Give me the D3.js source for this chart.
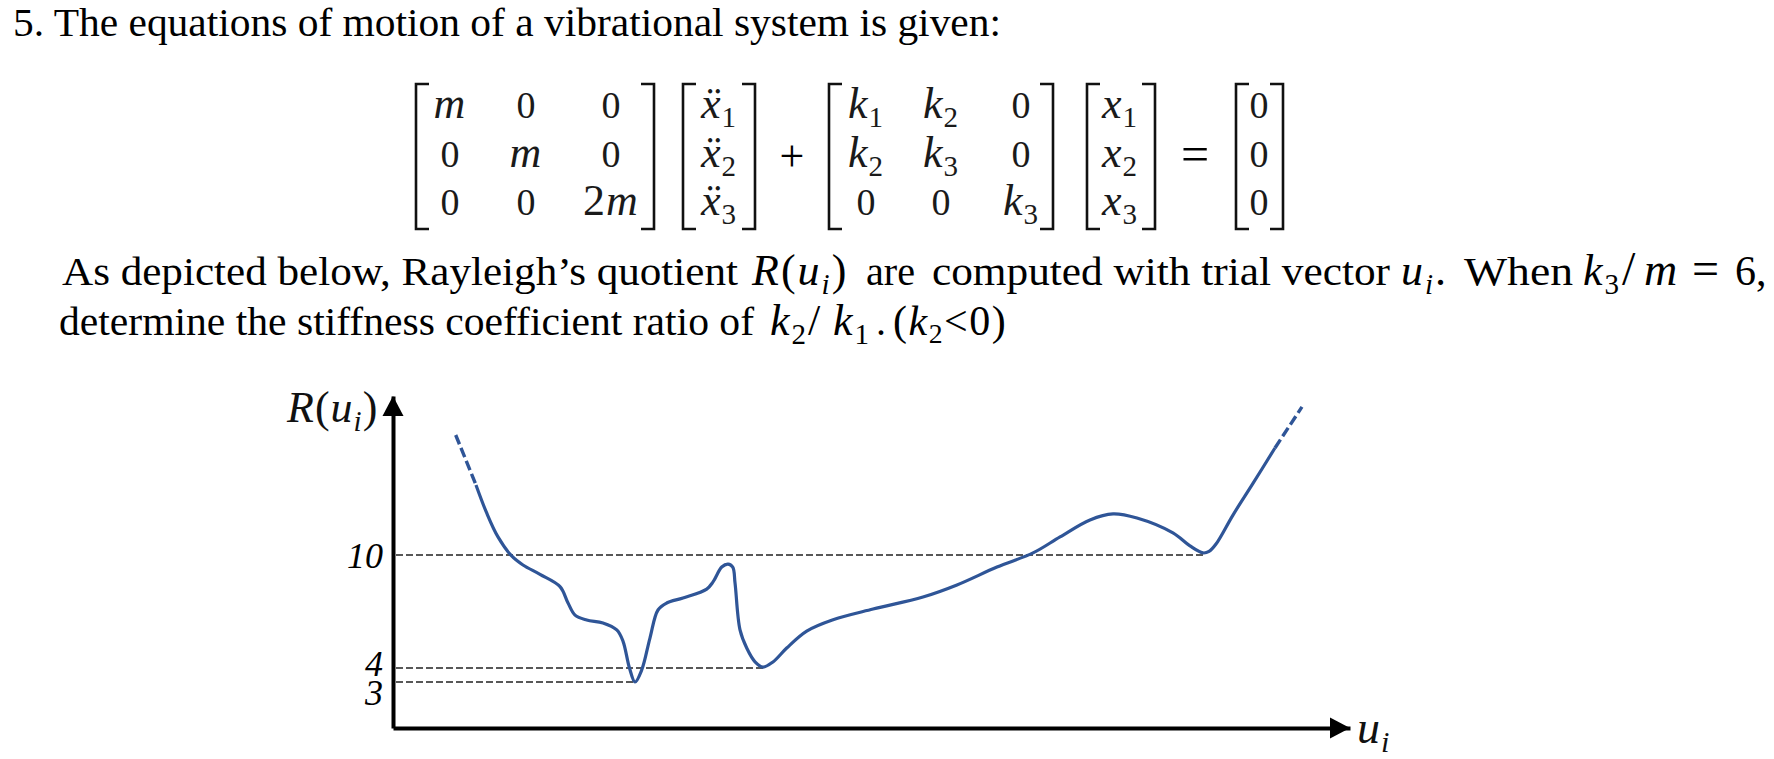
<!DOCTYPE html>
<html><head><meta charset="utf-8">
<script src="https://cdnjs.cloudflare.com/ajax/libs/d3/7.8.5/d3.min.js"></script>
<style>html,body{margin:0;padding:0;background:#fff}svg{display:block}text{fill:#000;font-family:"Liberation Serif",serif}</style>
</head><body><svg id="c" width="1774" height="759"></svg>
<script>
// ---- curve data: trial vector position u (0-100), Rayleigh quotient R
const dashLeftU=[6.55,8.67], dashLeftR=[16.37,13.72];
const curveU=[8.67,9.79,10.97,12.40,13.58,15.36,17.45,18.29,19.02,20.24,21.94,23.38,24.03,24.71,25.29,25.99,26.85,27.69,28.60,30.30,32.78,33.44,34.35,35.01,35.50,35.74,36.26,36.96,37.83,38.66,39.70,41.14,43.23,45.91,50.16,55.38,58.93,63.11,66.88,69.70,72.83,75.24,77.74,81.50,83.28,84.64,85.27,86.00,87.77,89.86,92.16];
const curveR=[13.72,12.23,10.96,9.95,9.47,8.97,8.32,7.45,6.81,6.55,6.39,6.02,5.43,4.0,3.0,3.86,5.59,7.08,7.45,7.72,8.19,8.57,9.36,9.52,9.36,8.51,6.02,5.06,4.33,4.05,4.32,5.06,5.96,6.55,7.13,7.77,8.41,9.36,10.11,10.96,11.86,12.18,11.96,11.17,10.48,10.11,10.19,10.58,12.12,13.80,15.68];
const dashRightU=[92.16,94.98], dashRightR=[15.68,17.86];
const tickValues=[10,4,3];
const refEndU=[84.64,38.66,25.29];
const yLabel=[["R","i"],["(",""],["u","i"],["i","si"],[")",""]];
const xLabel=[["u","i"],["i","si"]];
// ---- equation data
const massMatrix=[["m","0","0"],["0","m","0"],["0","0","2m"]];
const accelVector=[["ẍ_1"],["ẍ_2"],["ẍ_3"]];
const stiffMatrix=[["k_1","k_2","0"],["k_2","k_3","0"],["0","0","k_3"]];
const dispVector=[["x_1"],["x_2"],["x_3"]];
const rhsVector=[["0"],["0"],["0"]];

const svg=d3.select("#c");
const BLUE="#2f5597";
const x=d3.scaleLinear().domain([0,100]).range([393,1350]);
const y=d3.scaleLinear().domain([0,3,4,10,18.44]).range([728,682,668,555,396]);

function rich(g,px,py,parts,size,anchor,spacing){
  const t=g.append("text").attr("x",px).attr("y",py).attr("font-size",size).attr("text-anchor",anchor||"start");
  if(spacing) t.attr("letter-spacing",spacing);
  let prev=false;
  const drop=size*0.2;
  parts.forEach(([s,k])=>{
    const sub=k==="s"||k==="si";
    const ts=t.append("tspan").text(s);
    if(k==="i"||k==="si") ts.attr("font-style","italic");
    if(sub) ts.attr("font-size",size*0.66);
    const dy=(sub&&!prev)?drop:(!sub&&prev)?-drop:0;
    if(dy) ts.attr("dy",dy);
    prev=sub;
  });
  return t;
}
function parseCell(c){
  const [base,sub]=c.split("_");
  const parts=[];
  for(const ch of base) parts.push([ch,/[0-9]/.test(ch)?"":"i"]);
  if(sub) parts.push([sub,"s"]);
  return parts;
}
function fit(g,px,py,str,len,size){
  g.append("text").attr("x",px).attr("y",py).attr("font-size",size)
    .attr("textLength",len).attr("lengthAdjust","spacingAndGlyphs").text(str);
}

// ---- paragraph text
const txt=svg.append("g");
const P=40, L2=285, L3=335;
fit(txt,13,36,"5. The equations of motion of a vibrational system is given:",988,P);
fit(txt,62,L2,"As depicted below, Rayleigh’s quotient",676,P);
rich(txt,752,L2,[["R","i"],["(",""],["u","i"],["i","si"],[")",""]],44,"start",2);
fit(txt,866,L2,"are",49,P);
fit(txt,932,L2,"computed with trial vector",458,P);
rich(txt,1401,L2,[["u","i"],["i","si"],[".",""]],44,"start",2);
fit(txt,1464,L2,"When",109,P);
rich(txt,1583,L2,[["k","i"],["3","s"]],44,"start",2);
rich(txt,1622,L2,[["/",""]],48);
rich(txt,1644,L2,[["m","i"]],46);
rich(txt,1692,L2,[["=",""]],48);
rich(txt,1735,L2,[["6,",""]],42);
fit(txt,59,L3,"determine the stiffness coefficient ratio of",695,P);
rich(txt,770,L3,[["k","i"],["2","s"],["/",""]],44,"start",2);
rich(txt,833,L3,[["k","i"],["1","s"]],44,"start",2);
rich(txt,876,L3,[[".",""]],40);
rich(txt,893,L3,[["(",""],["k","i"],["2","s"],["<0)",""]],42,"start",1.5);

// ---- equation
const eq=svg.append("g");
const rowY=[118,167,215];
function bracket(x0,x1){
  const t=84,b=229,w=13;
  eq.append("path").attr("fill","none").attr("stroke","#111").attr("stroke-width",2.6)
    .attr("d",`M${x0+w},${t}H${x0}V${b}H${x0+w}M${x1-w},${t}H${x1}V${b}H${x1-w}`);
}
function matrix(data,x0,x1,cols){
  bracket(x0,x1);
  data.forEach((row,r)=>row.forEach((c,j)=>rich(eq,cols[j],rowY[r],parseCell(c),c==="0"?38:44,"middle",c==="0"?0:1).style("fill","#1a1a1a")));
}
matrix(massMatrix,416,654,[450,526,611]);
matrix(accelVector,683,755,[719]);
rich(eq,792,171,[["+",""]],44,"middle");
matrix(stiffMatrix,829,1053,[866,941,1021]);
matrix(dispVector,1087,1155,[1120]);
rich(eq,1195,171,[["=",""]],50,"middle");
matrix(rhsVector,1236,1283,[1259]);

// ---- chart
const chart=svg.append("g");
const line=d3.line().x(d=>x(d[0])).y(d=>y(d[1])).curve(d3.curveCatmullRom.alpha(0.5));
chart.selectAll("line.ref").data(tickValues).join("line").attr("class","ref")
  .attr("x1",x(0)+3).attr("x2",(d,i)=>x(refEndU[i])).attr("y1",d=>y(d)).attr("y2",d=>y(d))
  .attr("stroke","#222").attr("stroke-width",1.6).attr("stroke-dasharray","7 3");
chart.append("path").datum(d3.zip(curveU,curveR)).attr("d",line)
  .attr("fill","none").attr("stroke",BLUE).attr("stroke-width",3.2);
[[dashLeftU,dashLeftR],[dashRightU,dashRightR]].forEach(([u,r])=>{
  chart.append("path").datum(d3.zip(u,r)).attr("d",line)
    .attr("fill","none").attr("stroke",BLUE).attr("stroke-width",3.4).attr("stroke-dasharray","10 4");
});
const ax=chart.append("g").attr("transform",`translate(${x(0)},0)`)
  .call(d3.axisLeft(y).tickValues(tickValues).tickSize(0).tickPadding(10).tickFormat(d3.format("d")));
ax.select(".domain").attr("stroke","#000").attr("stroke-width",4);
ax.selectAll("text").attr("font-family","Liberation Serif").attr("font-style","italic").attr("font-size",36)
  .attr("dy",d=>d===3?"0.62em":d===4?"0.22em":"0.34em").attr("fill","#000");
const bx=chart.append("g").attr("transform",`translate(0,${y(0)})`)
  .call(d3.axisBottom(x).tickValues([]).tickSize(0));
bx.select(".domain").attr("stroke","#000").attr("stroke-width",4);
const arrowTop=y(18.44), arrowRight=x(100), ox=x(0), oy=y(0);
chart.append("path").attr("fill","#000").attr("d",`M${ox},${arrowTop}L${ox-10.5},${arrowTop+20}H${ox+10.5}Z`);
chart.append("path").attr("fill","#000").attr("d",`M${arrowRight},${oy}L${arrowRight-20},${oy-10.5}V${oy+10.5}Z`);
rich(chart,287,422,yLabel,44,"start",1).style("fill","#111");
rich(chart,1357,743,xLabel,46,"start",1).style("fill","#111");
</script></body></html>
